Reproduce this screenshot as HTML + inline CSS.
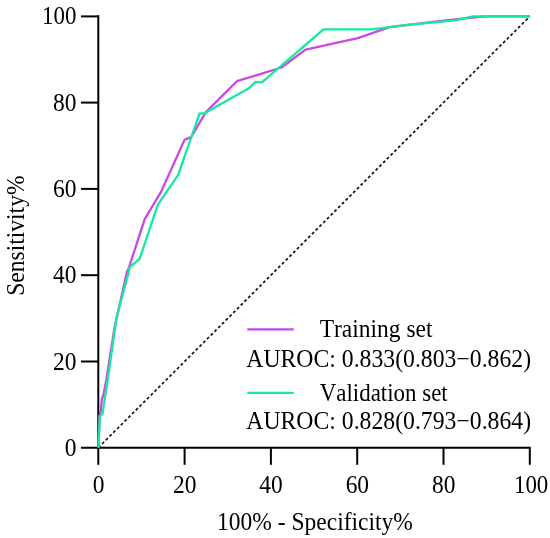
<!DOCTYPE html>
<html><head><meta charset="utf-8"><title>ROC</title>
<style>
html,body{margin:0;padding:0;background:#fff;}
svg{display:block;}
text{font-family:"Liberation Serif","Times New Roman",serif;font-size:24px;font-kerning:none;fill:#000;stroke:#000;stroke-width:0px;}
</style></head><body>
<svg width="550" height="538" viewBox="0 0 550 538">
<rect width="550" height="538" fill="#fff"/>
<line x1="98.3" y1="447.75" x2="529.75" y2="16.35" stroke="#111" stroke-width="1.7" stroke-dasharray="2.9 2.4"/>
<g stroke="#000" stroke-width="2.0" fill="none">
<line x1="98.3" y1="15.35" x2="98.3" y2="448.75"/>
<line x1="81.0" y1="447.75" x2="530.75" y2="447.75"/>
<line x1="98.3" y1="447.75" x2="98.3" y2="464.8"/>
<line x1="81.0" y1="361.5" x2="98.3" y2="361.5"/>
<line x1="184.6" y1="447.75" x2="184.6" y2="464.8"/>
<line x1="81.0" y1="275.2" x2="98.3" y2="275.2"/>
<line x1="270.9" y1="447.75" x2="270.9" y2="464.8"/>
<line x1="81.0" y1="188.9" x2="98.3" y2="188.9"/>
<line x1="357.2" y1="447.75" x2="357.2" y2="464.8"/>
<line x1="81.0" y1="102.6" x2="98.3" y2="102.6"/>
<line x1="443.5" y1="447.75" x2="443.5" y2="464.8"/>
<line x1="81.0" y1="16.4" x2="98.3" y2="16.4"/>
<line x1="529.8" y1="447.75" x2="529.8" y2="464.8"/>
</g>
<polyline points="98.5,447.8 99.6,415.5 100.9,410.5 101.8,399.5 103.4,395.0 106.3,380.0 114.5,328.0 126.9,272.0 128.7,268.3 144.7,219.1 161.3,191.3 184.5,139.9 191.2,137.0 205.7,112.4 236.9,81.2 281.5,67.5 305.6,49.6 357.8,38.2 389.6,27.1 410.0,24.7 455.0,19.3 485.0,16.4 529.8,16.4" fill="none" stroke="#cc46e6" stroke-width="2.3" stroke-linejoin="round"/>
<polyline points="98.5,447.8 99.8,416.5 102.6,413.2 107.7,380.0 116.4,318.0 129.0,271.0 129.7,267.0 139.5,259.2 157.9,204.7 178.2,174.8 199.6,113.4 204.2,113.4 249.2,87.9 255.7,81.8 261.9,82.3 323.5,29.3 371.8,29.3 410.0,24.7 455.5,20.4 472.9,16.4 529.8,16.4" fill="none" stroke="#13ea9f" stroke-width="2.3" stroke-linejoin="round"/>
<text transform="translate(64.72 455.85) scale(0.9780 1.045)">0</text>
<text transform="translate(92.63 493.40) scale(0.9780 1.045)">0</text>
<text transform="translate(52.98 369.57) scale(0.9780 1.045)">20</text>
<text transform="translate(173.05 493.40) scale(0.9780 1.045)">20</text>
<text transform="translate(52.98 283.29) scale(0.9780 1.045)">40</text>
<text transform="translate(259.34 493.40) scale(0.9780 1.045)">40</text>
<text transform="translate(52.98 197.01) scale(0.9780 1.045)">60</text>
<text transform="translate(345.63 493.40) scale(0.9780 1.045)">60</text>
<text transform="translate(52.98 110.73) scale(0.9780 1.045)">80</text>
<text transform="translate(431.92 493.40) scale(0.9780 1.045)">80</text>
<text transform="translate(42.06 24.45) scale(0.9550 1.045)">100</text>
<text transform="translate(513.96 493.40) scale(0.9550 1.045)">100</text>
<text transform="translate(217.12 529.50) scale(0.9787 1.03)">100% - Specificity%</text>
<text transform="translate(24.0 295.79) rotate(-90) scale(0.9813 1.06)">Sensitivity%</text>
<line x1="247.3" y1="329.4" x2="293.8" y2="329.4" stroke="#cc46e6" stroke-width="2.3"/>
<line x1="247.3" y1="392.9" x2="293.8" y2="392.9" stroke="#13ea9f" stroke-width="2.3"/>
<text transform="translate(319.63 337.20) scale(0.9795 1.03)">Training set</text>
<text transform="translate(246.25 366.70) scale(0.9885 1.03)">AUROC: 0.833(0.803−0.862)</text>
<text transform="translate(319.66 401.00) scale(0.9564 1.03)">Validation set</text>
<text transform="translate(246.25 428.70) scale(0.9885 1.03)">AUROC: 0.828(0.793−0.864)</text>
</svg>
</body></html>
